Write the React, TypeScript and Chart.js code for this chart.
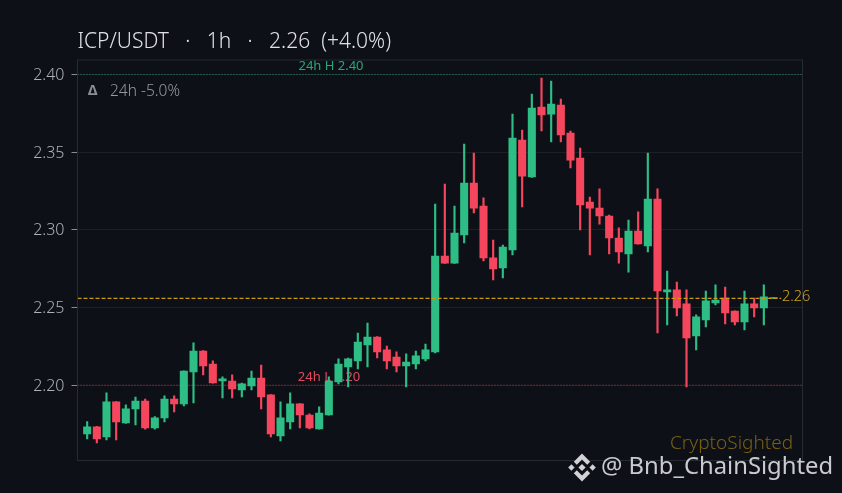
import React, { useEffect, useRef } from "react";
import { Chart, registerables } from "chart.js";

Chart.register(...registerables);

const opens = [2.1686,2.1731,2.1667,2.1892,2.1757,2.1847,2.1898,2.1725,2.1789,2.1911,2.1879,2.2085,2.2220,2.2136,2.2027,2.2027,2.1969,2.1995,2.2046,2.1937,2.1673,2.1763,2.1879,2.1808,2.1718,2.1808,2.2021,2.2117,2.2156,2.2259,2.2310,2.2227,2.2181,2.2124,2.2136,2.2169,2.2214,2.2831,2.2786,2.2967,2.3301,2.3153,2.2819,2.2754,2.2870,2.3578,2.3340,2.3790,2.3745,2.3803,2.3623,2.3462,2.3179,2.3140,2.3089,2.2947,2.2844,2.2992,2.2896,2.3198,2.2600,2.2613,2.2523,2.2317,2.2420,2.2529,2.2561,2.2477,2.2407,2.2523,2.2497,2.2558];
const highs = [2.1765,2.1735,2.1950,2.1895,2.1873,2.1924,2.1911,2.1797,2.1931,2.1931,2.2093,2.2272,2.2222,2.2156,2.2053,2.2066,2.2014,2.2091,2.2130,2.1940,2.1892,2.1950,2.1881,2.1815,2.1860,2.2053,2.2169,2.2175,2.2336,2.2400,2.2312,2.2252,2.2214,2.2201,2.2220,2.2265,2.3166,2.3295,2.3153,2.3552,2.3494,2.3205,2.2934,2.2902,2.3745,2.3642,2.3874,2.3977,2.3958,2.3842,2.3636,2.3526,2.3211,2.3263,2.3095,2.3012,2.3063,2.3115,2.3494,2.3263,2.2735,2.2664,2.2613,2.2452,2.2606,2.2645,2.2632,2.2479,2.2606,2.2561,2.2645,2.2564];
const lows = [2.1654,2.1628,2.1647,2.1647,2.1754,2.1744,2.1716,2.1716,2.1763,2.1828,2.1866,2.1885,2.2066,2.2012,2.1918,2.1918,2.1924,2.1969,2.1847,2.1667,2.1641,2.1718,2.1725,2.1718,2.1716,2.1806,2.2008,2.1988,2.2104,2.2117,2.2175,2.2104,2.2085,2.1988,2.2104,2.2156,2.2207,2.2784,2.2784,2.2915,2.3108,2.2799,2.2677,2.2690,2.2838,2.3147,2.3337,2.3636,2.3565,2.3565,2.3398,2.2999,2.2838,2.3037,2.2844,2.2786,2.2728,2.2907,2.2857,2.2336,2.2387,2.2445,2.1988,2.2227,2.2375,2.2516,2.2394,2.2387,2.2355,2.2439,2.2387,2.2558];
const closes = [2.1731,2.1654,2.1892,2.1763,2.1847,2.1898,2.1725,2.1789,2.1911,2.1879,2.2091,2.2220,2.2124,2.2014,2.2040,2.1976,2.2008,2.2046,2.1924,2.1686,2.1789,2.1879,2.1808,2.1725,2.1821,2.2027,2.2136,2.2169,2.2278,2.2310,2.2214,2.2156,2.2124,2.2149,2.2188,2.2227,2.2831,2.2786,2.2979,2.3301,2.3140,2.2819,2.2748,2.2889,2.3591,2.3346,2.3784,2.3739,2.3810,2.3610,2.3449,2.3160,2.3140,2.3089,2.2947,2.2857,2.2992,2.2909,2.3198,2.2606,2.2613,2.2497,2.2304,2.2439,2.2542,2.2548,2.2465,2.2407,2.2523,2.2497,2.2568,2.2564];

const yTickValues = [2.2, 2.25, 2.3, 2.35, 2.4];
const high24h = 2.4;
const low24h = 2.2;
const lastPrice = 2.2559;

const titleText = "ICP/USDT   ·   1h   ·   2.26  (+4.0%)";
const highLabel = "24h H 2.40";
const lowLabel = "24h L 2.20";
const lastLabel = "2.26";
const deltaGlyph = "Δ";
const deltaLabel = "24h -5.0%";
const brandLabel = "CryptoSighted";
const watermarkLabel = "@ Bnb_ChainSighted";

const BG = "#0d1117";
const GREEN = "#2ebd85";
const RED = "#f6465d";
const AMBER = "#c99a12";
const SANS = '"Noto Sans"';

const annotations = {
  id: "annotations",
  beforeDatasetsDraw(chart: any) {
    const { ctx, scales } = chart;
    ctx.save();
    ctx.textBaseline = "middle";
    ctx.textAlign = "center";
    ctx.font = `400 13px ${SANS}`;
    ctx.fillStyle = "#23a876";
    ctx.fillText(highLabel, 331, scales.y.getPixelForValue(high24h) - 8);
    ctx.fillStyle = "#df4a5e";
    ctx.fillText(lowLabel, 329, scales.y.getPixelForValue(low24h) - 8);
    ctx.restore();
  },
  afterDraw(chart: any) {
    const { ctx, chartArea: a, scales } = chart;
    ctx.save();
    ctx.strokeStyle = "#262a31";
    ctx.lineWidth = 1;
    ctx.strokeRect(a.left, a.top, a.right - a.left, a.bottom - a.top);
    ctx.textBaseline = "middle";

    ctx.textAlign = "left";
    ctx.font = `300 14.5px ${SANS}`;
    ctx.fillStyle = "#d4a31a";
    ctx.fillText(lastLabel, 782, scales.y.getPixelForValue(lastPrice) - 1);

    ctx.font = `bold 14px ${SANS}`;
    ctx.fillStyle = "#8d8f95";
    ctx.fillText(deltaGlyph, 88, 91.5);
    ctx.font = `300 15.5px ${SANS}`;
    ctx.fillStyle = "#96989e";
    ctx.fillText(deltaLabel, 110, 91.5);

    ctx.font = `300 19px ${SANS}`;
    ctx.fillStyle = "#7a5f15";
    ctx.fillText(brandLabel, 670, 444);

    ctx.font = `400 23.8px ${SANS}`;
    ctx.fillStyle = "#c9cbcf";
    ctx.fillText(watermarkLabel, 601, 467);

    const cx = 582, cy = 467.5;
    ctx.fillStyle = "#d0d2d5";
    const poly = (pts: number[][]) => {
      ctx.beginPath();
      pts.forEach(([x, y], i) => (i ? ctx.lineTo(cx + x, cy + y) : ctx.moveTo(cx + x, cy + y)));
      ctx.closePath();
      ctx.fill();
    };
    const diamond = (dx: number, r: number) =>
      poly([[dx, -r], [dx + r, 0], [dx, r], [dx - r, 0]]);
    diamond(0, 3.6);
    diamond(-10.6, 3.2);
    diamond(10.6, 3.2);
    poly([[0, -14], [8.2, -5.8], [5.2, -2.8], [0, -8], [-5.2, -2.8], [-8.2, -5.8]]);
    poly([[0, 14], [8.2, 5.8], [5.2, 2.8], [0, 8], [-5.2, 2.8], [-8.2, 5.8]]);
    ctx.restore();
  },
};

export default function App() {
  const ref = useRef<HTMLCanvasElement>(null);
  useEffect(() => {
    document.body.style.margin = "0";
    const candleColors = opens.map((o, i) => (closes[i] >= o ? GREEN : RED));
    const chart = new Chart(ref.current!, {
      type: "bar",
      plugins: [annotations],
      data: {
        datasets: [
          {
            type: "line",
            label: "Last",
            data: [{ x: -1, y: lastPrice }, { x: 71.8, y: lastPrice }],
            borderColor: AMBER,
            borderWidth: 1.2,
            borderDash: [4, 2],
            pointRadius: 0,
            order: 0,
          },
          {
            label: "Body",
            data: opens.map((o, i) => ({ x: i, y: [o, closes[i]] })),
            backgroundColor: candleColors,
            barThickness: 7.4,
            grouped: false,
            order: 1,
          },
          {
            label: "Wick",
            data: highs.map((h, i) => ({ x: i, y: [lows[i], h] })),
            backgroundColor: candleColors,
            barThickness: 1.5,
            grouped: false,
            order: 2,
          },
          {
            type: "line",
            label: "24h H",
            data: [{ x: -1, y: high24h }, { x: 74, y: high24h }],
            borderColor: "rgba(36,176,124,0.8)",
            borderWidth: 1,
            borderDash: [1, 2],
            pointRadius: 0,
            order: 3,
          },
          {
            type: "line",
            label: "24h L",
            data: [{ x: -1, y: low24h }, { x: 74, y: low24h }],
            borderColor: "rgba(232,70,92,0.7)",
            borderWidth: 1,
            borderDash: [1, 2],
            pointRadius: 0,
            order: 3,
          },
        ],
      } as any,
      options: {
        animation: false,
        responsive: false,
        layout: { padding: { left: 0, right: 39.5, top: 0, bottom: 32.5 } },
        plugins: {
          legend: { display: false },
          tooltip: { enabled: false },
          title: {
            display: true,
            text: titleText,
            align: "start",
            fullSize: false,
            color: "#dfe1e5",
            font: { family: "Noto Sans", size: 21, weight: 300 },
            padding: { top: 29.8, bottom: 5 },
          },
        },
        scales: {
          x: {
            type: "linear",
            min: -1,
            max: 74,
            offset: false,
            ticks: { display: false },
            grid: { display: false, drawTicks: false },
            border: { display: false },
          },
          y: {
            type: "linear",
            min: 2.1515,
            max: 2.4093,
            afterFit: (axis: any) => { axis.width = 77.5; },
            afterBuildTicks: (axis: any) => { axis.ticks = yTickValues.map((value) => ({ value })); },
            ticks: {
              color: "#aeb1b7",
              font: { family: "Noto Sans", size: 16, weight: 300 },
              padding: 7,
              labelOffset: 1,
              callback: (v: any) => Number(v).toFixed(2),
            },
            grid: { color: "#1c2027", tickColor: "#8a8d92", tickLength: 6, lineWidth: 1 },
            border: { display: false },
          },
        },
      } as any,
    });
    return () => chart.destroy();
  }, []);
  return (
    <div style={{ position: "fixed", inset: 0, background: BG }}>
      <canvas ref={ref} width={842} height={493} style={{ display: "block" }} />
    </div>
  );
}
